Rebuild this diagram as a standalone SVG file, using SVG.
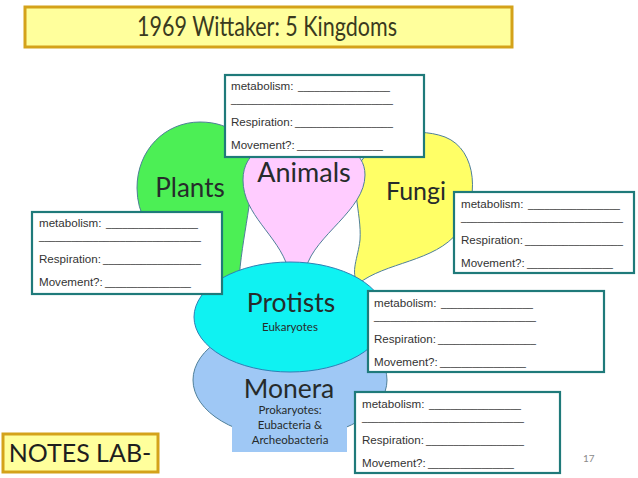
<svg xmlns="http://www.w3.org/2000/svg" width="638" height="478" viewBox="0 0 638 478">
<style>
.lbl{font-family:Lato,"Open Sans","Liberation Sans",sans-serif;fill:#262b2b}
.sm{font-size:11.5px}
.box{fill:#fff;stroke:#1f7a7a;stroke-width:2.2}
.bt{font-family:"Liberation Sans",Arial,sans-serif;font-size:11.6px;fill:#333}
.blob{stroke:#4f7f99;stroke-width:1}
.ybox{fill:#FFFF9C;stroke:#D4A21A;stroke-width:3}
</style>
<defs>
<g id="formtext">
<text class="bt" x="0" y="15">metabolism:</text>
<text class="bt" x="67" y="15" textLength="92" lengthAdjust="spacingAndGlyphs">_________________</text>
<text class="bt" x="0" y="28" textLength="162" lengthAdjust="spacingAndGlyphs">______________________________</text>
<text class="bt" x="0" y="51">Respiration:</text>
<text class="bt" x="64" y="51" textLength="98" lengthAdjust="spacingAndGlyphs">__________________</text>
<text class="bt" x="0" y="74">Movement?:</text>
<text class="bt" x="66" y="74" textLength="86" lengthAdjust="spacingAndGlyphs">________________</text>
</g>
</defs>
<g id="title">
<rect class="ybox" x="25" y="7" width="487" height="40"/>
<text x="137" y="36" textLength="260" lengthAdjust="spacingAndGlyphs" style="font-family:Lato,'Open Sans',sans-serif;font-size:26px;fill:#3a3a1e">1969  Wittaker: 5 Kingdoms</text>
</g>
<g id="plants">
<path class="blob" fill="#4CEF55" d="M 212,305 C 190,262 137,240 137,188 C 137,150 165,122 200,122 C 232,122 252,140 252,170 C 252,210 238,250 238,305 Z"/>
<text class="lbl" x="190" y="197" text-anchor="middle" style="font-size:26px">Plants</text>
</g>
<g id="fungi">
<path class="blob" fill="#FFFF66" d="M 358,284 C 385,262 435,262 458,232 C 480,200 478,150 445,137 C 412,125 378,138 362,160 C 348,182 362,212 360,240 C 358,258 350,272 358,284 Z"/>
<text class="lbl" x="416" y="200" text-anchor="middle" style="font-size:25px">Fungi</text>
</g>
<g id="animals">
<path class="blob" fill="#FFCCFF" d="M 288,268 C 278,235 243,215 243,180 C 243,150 270,140 303,140 C 340,140 365,150 365,175 C 365,210 315,235 306,268 Z"/>
<text class="lbl" x="304" y="182" text-anchor="middle" style="font-size:27px">Animals</text>
</g>
<g id="monera">
<ellipse class="blob" fill="#9FC8F5" cx="290" cy="380" rx="97" ry="58"/>
<rect x="232" y="395" width="115" height="57" fill="#9FC8F5"/>
<text class="lbl" x="289" y="398" text-anchor="middle" style="font-size:26.5px">Monera</text>
<text class="lbl sm" x="290" y="414" text-anchor="middle">Prokaryotes:</text>
<text class="lbl sm" x="290" y="429" text-anchor="middle">Eubacteria &amp;</text>
<text class="lbl sm" x="290" y="444" text-anchor="middle">Archeobacteria</text>
</g>
<g id="protists">
<ellipse fill="#0FF2F2" stroke="#2f7fb5" stroke-width="1" cx="290" cy="317" rx="96" ry="55"/>
<text class="lbl" x="291" y="312" text-anchor="middle" style="font-size:26.5px">Protists</text>
<text class="lbl sm" x="290" y="331" text-anchor="middle">Eukaryotes</text>
</g>
<g id="connectors"></g>
<g id="form-animals"><rect class="box" x="225" y="75" width="199" height="82"/><use href="#formtext" x="231" y="75"/></g>
<g id="form-plants"><rect class="box" x="32" y="212" width="190" height="82"/><use href="#formtext" x="39" y="212"/></g>
<g id="form-fungi"><rect class="box" x="454" y="192" width="180" height="81"/><use href="#formtext" x="461" y="193"/></g>
<g id="form-protists"><rect class="box" x="368" y="291" width="236" height="81"/><use href="#formtext" x="374" y="292"/></g>
<g id="form-monera"><rect class="box" x="355" y="392" width="205" height="81"/><use href="#formtext" x="362" y="393"/></g>
<g id="notes">
<rect class="ybox" x="3" y="434" width="155" height="38"/>
<text x="80" y="462" text-anchor="middle" style="font-family:Lato,'Open Sans',sans-serif;font-size:25px;fill:#1e1e1e">NOTES LAB-</text>
</g>
<text x="583" y="462" style="font-family:Lato,sans-serif;font-size:10px;fill:#8a8a8a">17</text>
</svg>
